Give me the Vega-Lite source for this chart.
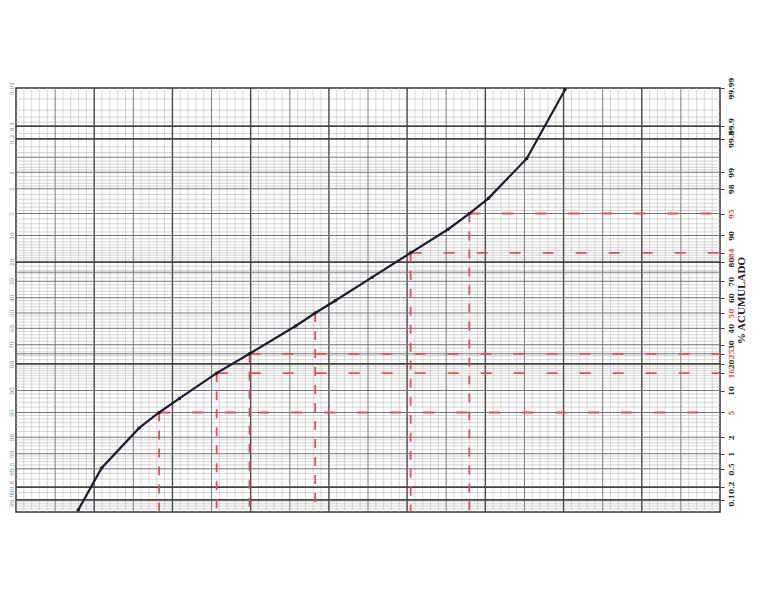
{
  "$schema": "https://vega.github.io/schema/vega-lite/v6.json",
  "description": "Curva de frecuencia acumulada en papel de probabilidad, con percentiles 5, 16, 25, 50, 84 y 95 marcados.",
  "autosize": {"type": "none"},
  "width": 704,
  "height": 424,
  "padding": {"left": 16, "top": 88, "right": 48, "bottom": 82},
  "background": "white",
  "config": {"view": {"stroke": "#333333", "strokeWidth": 1.5}},
  "datasets": {
    "curve": [
      {"x": 1.59, "p": 0.056},
      {"x": 2.19, "p": 0.52},
      {"x": 3.15, "p": 2.87},
      {"x": 3.66, "p": 5},
      {"x": 4.18, "p": 7.9},
      {"x": 5.13, "p": 16},
      {"x": 5.97, "p": 25},
      {"x": 7.15, "p": 41.5},
      {"x": 7.65, "p": 50},
      {"x": 8.16, "p": 58},
      {"x": 9.1, "p": 72.2},
      {"x": 10.09, "p": 84},
      {"x": 11.05, "p": 91.7},
      {"x": 11.59, "p": 95},
      {"x": 12.08, "p": 97.1},
      {"x": 13.06, "p": 99.47},
      {"x": 14.04, "p": 99.989}
    ],
    "pct": [
      {"x": 3.66, "p": 5},
      {"x": 5.13, "p": 16},
      {"x": 5.97, "p": 25},
      {"x": 7.65, "p": 50},
      {"x": 10.09, "p": 84},
      {"x": 11.59, "p": 95}
    ],
    "xminor": [
      {"x": 0.2}, {"x": 0.4}, {"x": 0.6}, {"x": 0.8}, {"x": 1.2}, {"x": 1.4}, {"x": 1.6}, {"x": 1.8},
      {"x": 2.2}, {"x": 2.4}, {"x": 2.6}, {"x": 2.8}, {"x": 3.2}, {"x": 3.4}, {"x": 3.6}, {"x": 3.8},
      {"x": 4.2}, {"x": 4.4}, {"x": 4.6}, {"x": 4.8}, {"x": 5.2}, {"x": 5.4}, {"x": 5.6}, {"x": 5.8},
      {"x": 6.2}, {"x": 6.4}, {"x": 6.6}, {"x": 6.8}, {"x": 7.2}, {"x": 7.4}, {"x": 7.6}, {"x": 7.8},
      {"x": 8.2}, {"x": 8.4}, {"x": 8.6}, {"x": 8.8}, {"x": 9.2}, {"x": 9.4}, {"x": 9.6}, {"x": 9.8},
      {"x": 10.2}, {"x": 10.4}, {"x": 10.6}, {"x": 10.8}, {"x": 11.2}, {"x": 11.4}, {"x": 11.6}, {"x": 11.8},
      {"x": 12.2}, {"x": 12.4}, {"x": 12.6}, {"x": 12.8}, {"x": 13.2}, {"x": 13.4}, {"x": 13.6}, {"x": 13.8},
      {"x": 14.2}, {"x": 14.4}, {"x": 14.6}, {"x": 14.8}, {"x": 15.2}, {"x": 15.4}, {"x": 15.6}, {"x": 15.8},
      {"x": 16.2}, {"x": 16.4}, {"x": 16.6}, {"x": 16.8}, {"x": 17.2}, {"x": 17.4}, {"x": 17.6}, {"x": 17.8}
    ],
    "xmid": [
      {"x": 1}, {"x": 3}, {"x": 5}, {"x": 7}, {"x": 9}, {"x": 11}, {"x": 13}, {"x": 15}, {"x": 17}
    ],
    "xmajor": [
      {"x": 2}, {"x": 4}, {"x": 6}, {"x": 8}, {"x": 10}, {"x": 12}, {"x": 14}, {"x": 16}
    ],
    "yminor": [
      {"p": 0.06}, {"p": 0.07}, {"p": 0.08}, {"p": 0.09}, {"p": 0.15}, {"p": 0.3}, {"p": 0.4},
      {"p": 0.6}, {"p": 0.7}, {"p": 0.8}, {"p": 0.9}, {"p": 1.2}, {"p": 1.4}, {"p": 1.6}, {"p": 1.8},
      {"p": 2.5}, {"p": 3}, {"p": 3.5}, {"p": 4}, {"p": 4.5}, {"p": 6}, {"p": 7}, {"p": 8}, {"p": 9},
      {"p": 11}, {"p": 12}, {"p": 13}, {"p": 14}, {"p": 15}, {"p": 16}, {"p": 17}, {"p": 18}, {"p": 19},
      {"p": 22}, {"p": 24}, {"p": 26}, {"p": 28}, {"p": 32}, {"p": 34}, {"p": 36}, {"p": 38},
      {"p": 42}, {"p": 44}, {"p": 46}, {"p": 48}, {"p": 52}, {"p": 54}, {"p": 56}, {"p": 58},
      {"p": 62}, {"p": 64}, {"p": 66}, {"p": 68}, {"p": 72}, {"p": 74}, {"p": 76}, {"p": 78},
      {"p": 81}, {"p": 82}, {"p": 83}, {"p": 84}, {"p": 85}, {"p": 86}, {"p": 87}, {"p": 88}, {"p": 89},
      {"p": 91}, {"p": 92}, {"p": 93}, {"p": 94}, {"p": 95.5}, {"p": 96}, {"p": 96.5}, {"p": 97}, {"p": 97.5},
      {"p": 98.2}, {"p": 98.4}, {"p": 98.6}, {"p": 98.8}, {"p": 99.1}, {"p": 99.2}, {"p": 99.3}, {"p": 99.4},
      {"p": 99.6}, {"p": 99.7}, {"p": 99.85}, {"p": 99.92}, {"p": 99.94}, {"p": 99.96}, {"p": 99.98}
    ],
    "ymid": [
      {"p": 0.5}, {"p": 1}, {"p": 2}, {"p": 5}, {"p": 10}, {"p": 25}, {"p": 30}, {"p": 40}, {"p": 50},
      {"p": 60}, {"p": 70}, {"p": 75}, {"p": 90}, {"p": 95}, {"p": 98}, {"p": 99}, {"p": 99.5}
    ],
    "ymajor": [
      {"p": 0.1}, {"p": 0.2}, {"p": 20}, {"p": 80}, {"p": 99.8}, {"p": 99.9}
    ]
  },
  "resolve": {"axis": {"y": "independent"}},
  "layer": [
    {
      "data": {"name": "xminor"},
      "mark": {"type": "rule", "color": "#bdbdbd", "strokeWidth": 0.6},
      "encoding": {
        "x": {"field": "x", "type": "quantitative", "scale": {"domain": [0, 18], "nice": false, "zero": false}, "axis": null}
      }
    },
    {
      "data": {"name": "yminor"},
      "transform": [{"calculate": "quantileNormal(datum.p / 100)", "as": "z"}],
      "mark": {"type": "rule", "color": "#b8b8b8", "strokeWidth": 0.6},
      "encoding": {
        "y": {"field": "z", "type": "quantitative", "scale": {"domain": [-3.29, 3.72], "nice": false, "zero": false}, "axis": null}
      }
    },
    {
      "data": {"name": "xmid"},
      "mark": {"type": "rule", "color": "#7c7c7c", "strokeWidth": 1},
      "encoding": {
        "x": {"field": "x", "type": "quantitative", "axis": null}
      }
    },
    {
      "data": {"name": "xmajor"},
      "mark": {"type": "rule", "color": "#4a4a4a", "strokeWidth": 1.4},
      "encoding": {
        "x": {"field": "x", "type": "quantitative", "axis": null}
      }
    },
    {
      "data": {"name": "ymid"},
      "transform": [{"calculate": "quantileNormal(datum.p / 100)", "as": "z"}],
      "mark": {"type": "rule", "color": "#747474", "strokeWidth": 1},
      "encoding": {
        "y": {"field": "z", "type": "quantitative", "axis": null}
      }
    },
    {
      "data": {"name": "ymajor"},
      "transform": [{"calculate": "quantileNormal(datum.p / 100)", "as": "z"}],
      "mark": {"type": "rule", "color": "#444444", "strokeWidth": 1.6},
      "encoding": {
        "y": {
          "field": "z",
          "type": "quantitative",
          "axis": {
            "orient": "left",
            "values": [-3.2905, -3.0902, -2.8782, -2.5758, -2.3263, -2.0537, -1.6449, -1.2816, -0.8416, -0.5244, -0.2533, 0, 0.2533, 0.5244, 0.8416, 1.2816, 1.6449, 2.0537, 2.3263, 2.8782, 3.0902, 3.719],
            "labelExpr": "'' + round((1 - cumulativeNormal(datum.value)) * 10000) / 100",
            "title": null,
            "grid": false,
            "domain": false,
            "ticks": false,
            "labelAngle": 270,
            "labelFont": "DejaVu Serif",
            "labelFontSize": 6,
            "labelColor": "#8c8c8c",
            "labelPadding": 2,
            "labelOverlap": false
          }
        }
      }
    },
    {
      "data": {"name": "pct"},
      "transform": [
        {"filter": "datum.p != 50"},
        {"calculate": "quantileNormal(datum.p / 100)", "as": "z"}
      ],
      "mark": {"type": "rule", "color": "#e0505c", "strokeWidth": 1.8, "strokeDash": [11, 22]},
      "encoding": {
        "x": {"field": "x", "type": "quantitative", "axis": null},
        "x2": {"datum": 18},
        "y": {"field": "z", "type": "quantitative", "axis": null}
      }
    },
    {
      "data": {"name": "pct"},
      "transform": [{"calculate": "quantileNormal(datum.p / 100)", "as": "z"}],
      "mark": {"type": "rule", "color": "#e0505c", "strokeWidth": 1.8, "strokeDash": [9, 9]},
      "encoding": {
        "x": {"field": "x", "type": "quantitative", "axis": null},
        "y": {"field": "z", "type": "quantitative", "axis": null},
        "y2": {"datum": -3.29}
      }
    },
    {
      "data": {"name": "curve"},
      "transform": [{"calculate": "quantileNormal(datum.p / 100)", "as": "z"}],
      "mark": {
        "type": "line",
        "color": "#1c1c2c",
        "strokeWidth": 2.2,
        "clip": true,
        "point": {"filled": true, "size": 12, "color": "#1c1c2c"}
      },
      "encoding": {
        "x": {"field": "x", "type": "quantitative", "axis": null},
        "y": {
          "field": "z",
          "type": "quantitative",
          "axis": {
            "orient": "right",
            "values": [-3.2905, -3.0902, -2.8782, -2.5758, -2.3263, -2.0537, -1.6449, -1.2816, -0.9945, -0.8416, -0.6745, -0.5244, -0.2533, 0, 0.2533, 0.5244, 0.8416, 0.9945, 1.2816, 1.6449, 2.0537, 2.3263, 2.8782, 3.0902, 3.719],
            "labelExpr": "'' + round(cumulativeNormal(datum.value) * 10000) / 100",
            "title": "% ACUMULADO",
            "grid": false,
            "domain": false,
            "ticks": true,
            "tickSize": 4,
            "tickColor": "#444",
            "labelAngle": 270,
            "labelFont": "DejaVu Serif",
            "labelFontSize": 7,
            "labelFontWeight": "bold",
            "labelPadding": 3,
            "labelOverlap": false,
            "labelColor": {
              "condition": {"test": "indexof([5, 16, 25, 50, 84, 95], round(cumulativeNormal(datum.value) * 10000) / 100) >= 0", "value": "#e04a55"},
              "value": "#2a2a2a"
            },
            "titleAngle": 270,
            "titleFont": "Liberation Serif",
            "titleFontSize": 11,
            "titleFontWeight": "bold",
            "titleColor": "#1a1a1a",
            "titlePadding": 12
          }
        }
      }
    }
  ]
}
